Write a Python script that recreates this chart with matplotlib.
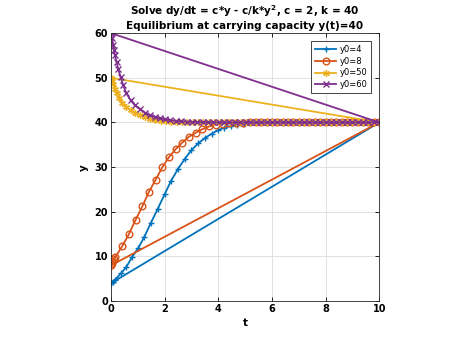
import matplotlib
matplotlib.use("Agg")
import matplotlib.pyplot as plt

# shared equilibrium tail (t >= 5.2, y at carrying capacity)
T_TAIL = [5.2, 5.4, 5.6, 5.8, 6.0, 6.2, 6.4, 6.6, 6.8, 7.0, 7.2, 7.4, 7.6, 7.8,
          8.0, 8.2, 8.4, 8.6, 8.8, 9.0, 9.2, 9.4, 9.6, 9.8, 10.0]
Y_TAIL = [40, 40, 40, 40, 40, 40, 40, 40, 40, 40, 40, 40, 40, 40,
          40, 40, 40, 40, 40, 40, 40, 40, 40, 40, 40]

t_y4 = [0, 0.06, 0.15, 0.37, 0.58, 0.78, 1.02, 1.24, 1.48, 1.74, 2.0, 2.24, 2.5,
        2.76, 3.0, 3.25, 3.5, 3.76, 4.0, 4.22, 4.46, 4.7, 4.95]
y_y4 = [4.0, 4.25, 4.8, 6.2, 7.7, 9.8, 11.9, 14.3, 17.4, 20.6, 23.9, 26.9, 29.6,
        31.9, 33.8, 35.3, 36.5, 37.5, 38.3, 38.8, 39.2, 39.5, 39.7]

t_y8 = [0, 0.04, 0.08, 0.12, 0.16, 0.42, 0.67, 0.92, 1.17, 1.42, 1.67, 1.92, 2.16,
        2.41, 2.66, 2.91, 3.16, 3.41, 3.66, 3.91, 4.16, 4.41, 4.66, 4.91]
y_y8 = [8.0, 8.5, 9.0, 9.4, 9.8, 12.3, 15.0, 18.2, 21.2, 24.5, 27.2, 30.0, 32.2,
        34.0, 35.5, 36.8, 37.7, 38.5, 39.1, 39.5, 39.7, 39.85, 39.9, 39.95]

t_y50 = [0, 0.04, 0.09, 0.15, 0.21, 0.31, 0.43, 0.58, 0.73, 0.9, 1.08, 1.27, 1.46,
         1.65, 1.85, 2.05, 2.25, 2.45, 2.65, 2.85, 3.05, 3.25, 3.45, 3.65, 3.85,
         4.05, 4.25, 4.45, 4.65, 4.85, 5.05]
y_y50 = [50.0, 49.3, 48.5, 47.4, 46.5, 45.4, 44.3, 43.5, 42.7, 42.2, 41.6, 41.2, 40.8,
         40.6, 40.4, 40.25, 40.15, 40.1, 40.05, 40.03, 40.02, 40.01, 40, 40, 40,
         40, 40, 40, 40, 40, 40]

t_y60 = [0, 0.04, 0.09, 0.12, 0.15, 0.21, 0.27, 0.36, 0.46, 0.58, 0.73, 0.9, 1.08,
         1.27, 1.46, 1.64, 1.83, 2.02, 2.22, 2.42, 2.62, 2.82, 3.02, 3.22, 3.42,
         3.62, 3.82, 4.02, 4.22, 4.42, 4.62, 4.82, 5.02]
y_y60 = [60.0, 59.0, 57.4, 56.2, 55.0, 53.5, 52.0, 50.2, 48.3, 46.5, 45.0, 43.8, 43.0,
         42.2, 41.6, 41.3, 40.9, 40.7, 40.5, 40.35, 40.25, 40.18, 40.12, 40.08, 40.05,
         40.03, 40.02, 40.01, 40, 40, 40, 40, 40]

labels = ["y0=4", "y0=8", "y0=50", "y0=60"]
colors = ["#0072BD", "#D95319", "#EDB120", "#7E2F8E"]
markers = ["+", "o", (6, 2, 0), "x"]
series_t = [t_y4, t_y8, t_y50, t_y60]
series_y = [y_y4, y_y8, y_y50, y_y60]

fig = plt.figure(figsize=(4.74, 3.38), dpi=100)
ax = fig.add_axes([0.234, 0.109, 0.566, 0.793])

for tt, yy, lab, col, mk in zip(series_t, series_y, labels, colors, markers):
    ts = tt + T_TAIL + [tt[0]]
    ys = yy + Y_TAIL + [yy[0]]
    ax.plot(ts, ys, color=col, marker=mk, markersize=4.8, linewidth=1.3,
            markerfacecolor="none", markeredgewidth=1.0, label=lab)

ax.set_xlim(0, 10)
ax.set_ylim(0, 60)
ax.set_xticks([0, 2, 4, 6, 8, 10])
ax.set_yticks([0, 10, 20, 30, 40, 50, 60])
ax.grid(True, color="#dcdcdc", linewidth=0.6)
ax.set_axisbelow(True)
ax.tick_params(direction="in", top=True, right=True, length=3, width=0.6,
               labelsize=7, pad=2)
for lbl in ax.get_xticklabels() + ax.get_yticklabels():
    lbl.set_fontweight("bold")
for s in ax.spines.values():
    s.set_linewidth(0.6)
    s.set_color("#262626")

ax.set_xlabel("t", fontsize=7.5, fontweight="bold", labelpad=3)
ax.set_ylabel("y", fontsize=7.5, fontweight="bold", labelpad=4)
ax.set_title("Solve dy/dt = c*y - c/k*y$^\\mathbf{2}$, c = 2, k = 40\n"
             "Equilibrium at carrying capacity y(t)=40",
             fontsize=7.5, fontweight="bold", pad=3, linespacing=1.25)

leg = ax.legend(loc="upper right", fontsize=6, frameon=True, fancybox=False,
                edgecolor="#262626", framealpha=1, borderpad=0.4,
                handlelength=2.6, labelspacing=0.35, handletextpad=0.4,
                bbox_to_anchor=(0.985, 0.985))
leg.get_frame().set_linewidth(0.6)

fig.savefig("out.png", dpi=100)
